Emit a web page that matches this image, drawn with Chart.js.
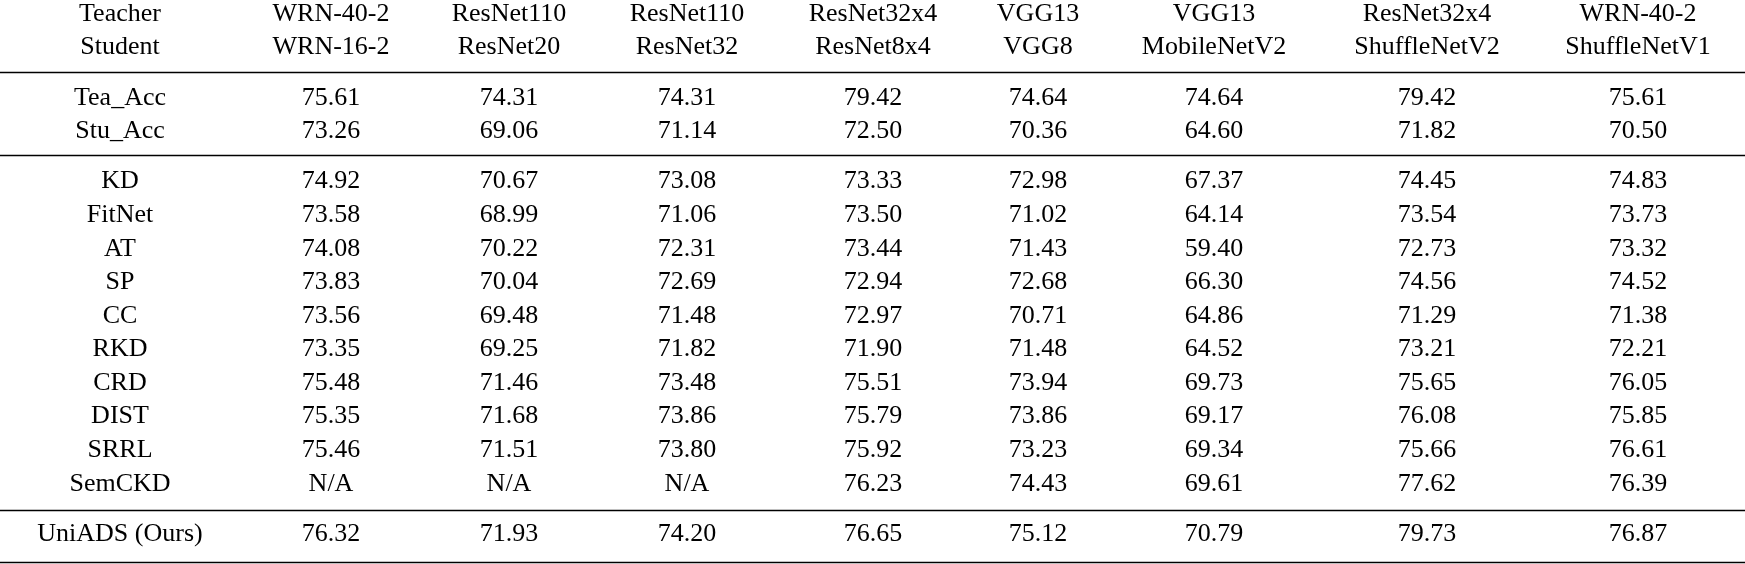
<!DOCTYPE html>
<html>
<head>
<meta charset="utf-8">
<script src="https://cdn.jsdelivr.net/npm/chart.js@4/dist/chart.umd.min.js"></script>
<style>
html, body { margin: 0; padding: 0; background: #fff; }
#wrap { width: 1745px; height: 564px; }
</style>
</head>
<body>
<div id="wrap"><canvas id="tbl"></canvas></div>
<script>
// table data
teachers = ["WRN-40-2", "ResNet110", "ResNet110", "ResNet32x4", "VGG13", "VGG13", "ResNet32x4", "WRN-40-2"]
students = ["WRN-16-2", "ResNet20", "ResNet32", "ResNet8x4", "VGG8", "MobileNetV2", "ShuffleNetV2", "ShuffleNetV1"]
methods = ["Tea_Acc", "Stu_Acc", "KD", "FitNet", "AT", "SP", "CC", "RKD", "CRD", "DIST", "SRRL", "SemCKD", "UniADS (Ours)"]
tea_acc = ["75.61", "74.31", "74.31", "79.42", "74.64", "74.64", "79.42", "75.61"]
stu_acc = ["73.26", "69.06", "71.14", "72.50", "70.36", "64.60", "71.82", "70.50"]
kd = ["74.92", "70.67", "73.08", "73.33", "72.98", "67.37", "74.45", "74.83"]
fitnet = ["73.58", "68.99", "71.06", "73.50", "71.02", "64.14", "73.54", "73.73"]
at = ["74.08", "70.22", "72.31", "73.44", "71.43", "59.40", "72.73", "73.32"]
sp = ["73.83", "70.04", "72.69", "72.94", "72.68", "66.30", "74.56", "74.52"]
cc = ["73.56", "69.48", "71.48", "72.97", "70.71", "64.86", "71.29", "71.38"]
rkd = ["73.35", "69.25", "71.82", "71.90", "71.48", "64.52", "73.21", "72.21"]
crd = ["75.48", "71.46", "73.48", "75.51", "73.94", "69.73", "75.65", "76.05"]
dist = ["75.35", "71.68", "73.86", "75.79", "73.86", "69.17", "76.08", "75.85"]
srrl = ["75.46", "71.51", "73.80", "75.92", "73.23", "69.34", "75.66", "76.61"]
semckd = ["N/A", "N/A", "N/A", "76.23", "74.43", "69.61", "77.62", "76.39"]
uniads = ["76.32", "71.93", "74.20", "76.65", "75.12", "70.79", "79.73", "76.87"]

// layout (column centers / row slots in scale units)
colPos = [120, 331, 509, 687, 873, 1038, 1214, 1427, 1638]
rowPos = [0, 1, 2.5, 3.5, 5, 6, 7, 8, 9, 10, 11, 12, 13, 14, 15.5]
rulePos = [1.75, 4.25, 14.8, 16.35]

rows = [["Teacher"].concat(teachers), ["Student"].concat(students)]
bodies = [tea_acc, stu_acc, kd, fitnet, at, sp, cc, rkd, crd, dist, srrl, semckd, uniads]
for (i = 0; i < methods.length; i++) rows.push([methods[i]].concat(bodies[i]))

points = []
rows.forEach((r, ri) => r.forEach((t, ci) => points.push({x: colPos[ci], y: rowPos[ri], t: t})))

tablePlugin = {
  id: "tableText",
  afterDatasetsDraw(c) {
    ctx = c.ctx
    xs = c.scales.x
    ys = c.scales.y
    ctx.save()
    ctx.strokeStyle = "#000"
    ctx.lineWidth = 1.6
    rulePos.forEach(v => {
      y = Math.round(ys.getPixelForValue(v)) + 0.5
      ctx.beginPath()
      ctx.moveTo(0, y)
      ctx.lineTo(c.width, y)
      ctx.stroke()
    })
    ctx.fillStyle = "#000"
    ctx.font = "26px 'Liberation Serif', 'Times New Roman', serif"
    ctx.textAlign = "center"
    ctx.textBaseline = "middle"
    c.data.datasets[0].data.forEach(p => {
      ctx.fillText(p.t, xs.getPixelForValue(p.x), ys.getPixelForValue(p.y) + 1)
    })
    ctx.restore()
  }
}

new Chart(document.getElementById("tbl"), {
  type: "scatter",
  data: { datasets: [{ data: points, pointRadius: 0, pointHoverRadius: 0 }] },
  options: {
    responsive: true,
    maintainAspectRatio: false,
    animation: false,
    layout: { padding: 0 },
    plugins: { legend: { display: false }, tooltip: { enabled: false } },
    scales: {
      x: { type: "linear", min: 0, max: 1745, display: false },
      y: { type: "linear", min: -0.38, max: 16.42, reverse: true, display: false }
    }
  },
  plugins: [tablePlugin]
})
</script>
</body>
</html>
